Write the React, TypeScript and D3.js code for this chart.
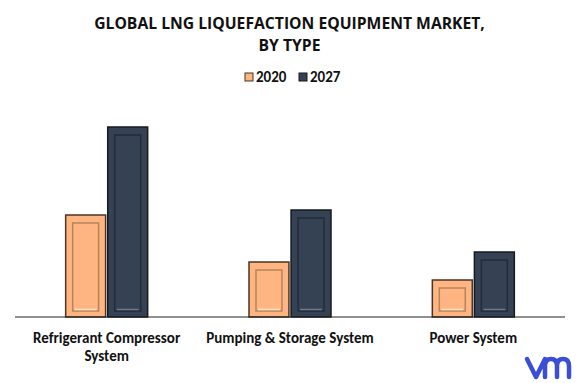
import React from "react";
import * as d3 from "d3";

const categories = ["Refrigerant Compressor System", "Pumping & Storage System", "Power System"];
const categoryLines = [["Refrigerant Compressor", "System"], ["Pumping & Storage System"], ["Power System"]];
const series = ["2020", "2027"];
const values2020 = [102, 55, 37];
const values2027 = [190, 107, 65];
const titleLines = ["GLOBAL LNG LIQUEFACTION EQUIPMENT MARKET,", "BY TYPE"];

const W = 579, H = 383;
const baseY = 317;
const TITLE_FONT = "'Open Sans', 'Noto Sans', sans-serif";
const FONT = "Carlito, Calibri, Lato, 'Open Sans', sans-serif";

const palette = {
  "2020": { fill: "#FFB581", stroke: "#4a3424", inner: "#B8825C", hl: "#FFE3C4" },
  "2027": { fill: "#354253", stroke: "#151a21", inner: "#232c38", hl: "#6c7a8c" },
};

function Bar({ x, y, w, h, s }: { x: number; y: number; w: number; h: number; s: string }) {
  const c = (palette as any)[s];
  const ix = x + 7, iy = y + 8, iw = w - 14, ih = Math.max(h - 14, 0);
  return (
    <g>
      <rect x={x} y={y} width={w} height={h} fill={c.fill} stroke={c.stroke} strokeWidth={1.5} />
      <rect x={ix} y={iy} width={iw} height={ih} fill="none" stroke={c.inner} strokeWidth={1.5} />
      <line x1={ix + 2} x2={ix + iw - 2} y1={iy + ih - 1.5} y2={iy + ih - 1.5} stroke={c.hl} strokeWidth={1.5} />
    </g>
  );
}

export default function App() {
  const x0 = d3.scaleBand<string>().domain(categories).range([15, 565]).paddingInner(0).paddingOuter(0);
  const groupW = 82;
  const x1 = d3.scaleBand<string>().domain(series).range([0, groupW]).paddingInner(0.05);
  const y = d3.scaleLinear().domain([0, 190]).range([baseY, 127]);
  const data = [values2020, values2027];

  return (
    <svg width={W} height={H} style={{ position: "absolute", left: 0, top: 0, background: "#fff" }} fontFamily={FONT}>
      <rect width={W} height={H} fill="#fff" />
      {titleLines.map((t, i) => (
        <text key={i} x={289.5} y={28.5 + i * 22} textAnchor="middle" fontSize={15.7} fontWeight="bold" fill="#111" fontFamily={TITLE_FONT}>{t}</text>
      ))}
      {series.map((s, i) => {
        const lx = i === 0 ? 245 : 299;
        const c = (palette as any)[s];
        return (
          <g key={s}>
            <rect x={lx} y={73} width={8} height={8} fill={c.fill} stroke={c.stroke} strokeWidth={1} />
            <text x={lx + 11} y={82} fontSize={15} fontWeight="bold" fill="#111">{s}</text>
          </g>
        );
      })}
      {categories.map((cat, ci) => {
        const gx = x0(cat)! + x0.bandwidth() / 2 - groupW / 2;
        return (
          <g key={cat}>
            {series.map((s, si) => {
              const v = data[si][ci];
              return <Bar key={s} s={s} x={gx + x1(s)!} y={y(v)} w={x1.bandwidth()} h={baseY - y(v)} />;
            })}
            {categoryLines[ci].map((l, li) => (
              <text key={li} x={x0(cat)! + x0.bandwidth() / 2} y={343 + li * 17.5} textAnchor="middle" fontSize={15} fontWeight="bold" fill="#111">{l}</text>
            ))}
          </g>
        );
      })}
      <line x1={15} x2={565} y1={baseY} y2={baseY} stroke="#222" strokeWidth={1.2} />
      <path d="M527,359 L536,377 L545,359 M545,377 L545,366 Q545,359 551,359 Q557,359 557,366 L557,377 M557,366 Q557,359 563,359 Q569,359 569,366 L569,377" fill="none" stroke="#3B4FD6" strokeWidth={4.5} strokeLinecap="round" strokeLinejoin="round" />
    </svg>
  );
}
